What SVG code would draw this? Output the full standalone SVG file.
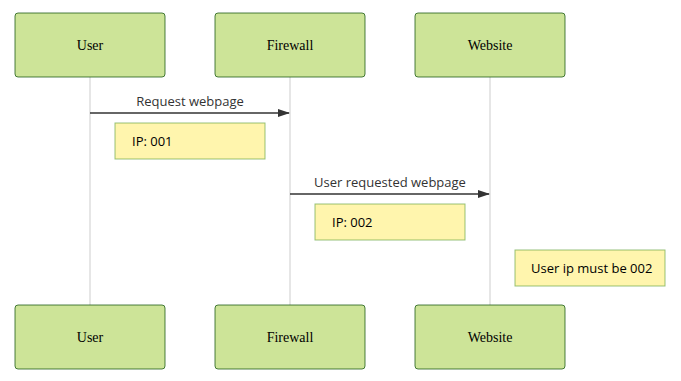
<svg xmlns="http://www.w3.org/2000/svg" width="681" height="381" viewBox="0 0 681 381">
<style>
.actor{fill:#cde498;stroke:#13540c;stroke-opacity:0.75;stroke-width:1}
.atext{font-family:"Liberation Serif",serif;font-size:14px;fill:#000;text-anchor:middle;dominant-baseline:central}
.life{stroke:#999;stroke-width:0.5;fill:none}
.msg{stroke:#333;stroke-width:1.5;fill:none}
.mtext{font-family:"Open Sans","Noto Sans",sans-serif;font-size:13px;fill:#333;text-anchor:middle}
.note{fill:#fff5ad;stroke:#6eaa49;stroke-opacity:0.7;stroke-width:1}
.ntext{font-family:"Open Sans","Noto Sans",sans-serif;font-size:13px;fill:#000}
</style>
<defs>
<marker id="arrow" viewBox="0 0 12 12" refX="11" refY="6" markerWidth="12" markerHeight="12" markerUnits="userSpaceOnUse" orient="auto">
<path d="M0,2 L12,6 L0,10 z" fill="#333"/>
</marker>
</defs>
<rect width="681" height="381" fill="#fff"/>
<g id="lifelines">
<line class="life" x1="90" y1="77" x2="90" y2="305"/>
<line class="life" x1="290" y1="77" x2="290" y2="305"/>
<line class="life" x1="490" y1="77" x2="490" y2="305"/>
</g>
<g id="actor-user-top"><rect class="actor" x="15" y="13" width="150" height="64" rx="3"/><text class="atext" x="90" y="45">User</text></g>
<g id="actor-firewall-top"><rect class="actor" x="215" y="13" width="150" height="64" rx="3"/><text class="atext" x="290" y="45">Firewall</text></g>
<g id="actor-website-top"><rect class="actor" x="415" y="13" width="150" height="64" rx="3"/><text class="atext" x="490" y="45">Website</text></g>
<g id="actor-user-bottom"><rect class="actor" x="15" y="305" width="150" height="64" rx="3"/><text class="atext" x="90" y="337">User</text></g>
<g id="actor-firewall-bottom"><rect class="actor" x="215" y="305" width="150" height="64" rx="3"/><text class="atext" x="290" y="337">Firewall</text></g>
<g id="actor-website-bottom"><rect class="actor" x="415" y="305" width="150" height="64" rx="3"/><text class="atext" x="490" y="337">Website</text></g>
<g id="connectors">
<line class="msg" x1="90" y1="113" x2="289" y2="113" marker-end="url(#arrow)"/>
<text class="mtext" x="190" y="106">Request webpage</text>
<line class="msg" x1="290" y1="194" x2="489" y2="194" marker-end="url(#arrow)"/>
<text class="mtext" x="390" y="187">User requested webpage</text>
</g>
<g id="note-1"><rect class="note" x="115" y="123" width="150" height="36"/><text class="ntext" x="132" y="146">IP: 001</text></g>
<g id="note-2"><rect class="note" x="315" y="204" width="150" height="36"/><text class="ntext" x="332" y="227">IP: 002</text></g>
<g id="note-3"><rect class="note" x="515" y="250" width="150" height="36"/><text class="ntext" x="531" y="273">User ip must be 002</text></g>
</svg>
